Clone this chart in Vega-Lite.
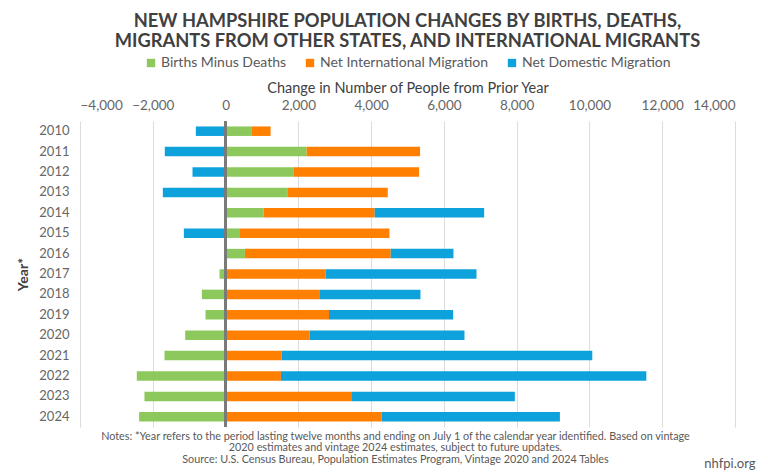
{
  "$schema": "https://vega.github.io/schema/vega-lite/v6.json",
  "width": 655,
  "height": 306,
  "padding": {"left": 16, "top": 11, "right": 6, "bottom": 4},
  "background": "white",
  "config": {
    "view": {"stroke": null},
    "font": "Lato",
    "legend": {"layout": {"top": {"anchor": "middle"}}}
  },
  "title": {
    "text": ["NEW HAMPSHIRE POPULATION CHANGES BY BIRTHS, DEATHS,", "MIGRANTS FROM OTHER STATES, AND INTERNATIONAL MIGRANTS"],
    "font": "Lato",
    "fontSize": 18.3,
    "fontWeight": "bold",
    "color": "#404040",
    "anchor": "middle",
    "lineHeight": 20,
    "offset": 5
  },
  "data": {
    "values": [
      {"year": "2010", "component": "Births Minus Deaths", "people": 707},
      {"year": "2010", "component": "Net International Migration", "people": 531},
      {"year": "2010", "component": "Net Domestic Migration", "people": -817},
      {"year": "2011", "component": "Births Minus Deaths", "people": 2228},
      {"year": "2011", "component": "Net International Migration", "people": 3118},
      {"year": "2011", "component": "Net Domestic Migration", "people": -1670},
      {"year": "2012", "component": "Births Minus Deaths", "people": 1862},
      {"year": "2012", "component": "Net International Migration", "people": 3457},
      {"year": "2012", "component": "Net Domestic Migration", "people": -908},
      {"year": "2013", "component": "Births Minus Deaths", "people": 1697},
      {"year": "2013", "component": "Net International Migration", "people": 2760},
      {"year": "2013", "component": "Net Domestic Migration", "people": -1724},
      {"year": "2014", "component": "Births Minus Deaths", "people": 1045},
      {"year": "2014", "component": "Net International Migration", "people": 3054},
      {"year": "2014", "component": "Net Domestic Migration", "people": 3008},
      {"year": "2015", "component": "Births Minus Deaths", "people": 376},
      {"year": "2015", "component": "Net International Migration", "people": 4127},
      {"year": "2015", "component": "Net Domestic Migration", "people": -1146},
      {"year": "2016", "component": "Births Minus Deaths", "people": 532},
      {"year": "2016", "component": "Net International Migration", "people": 4007},
      {"year": "2016", "component": "Net Domestic Migration", "people": 1724},
      {"year": "2017", "component": "Births Minus Deaths", "people": -165},
      {"year": "2017", "component": "Net International Migration", "people": 2751},
      {"year": "2017", "component": "Net Domestic Migration", "people": 4145},
      {"year": "2018", "component": "Births Minus Deaths", "people": -651},
      {"year": "2018", "component": "Net International Migration", "people": 2577},
      {"year": "2018", "component": "Net Domestic Migration", "people": 2779},
      {"year": "2019", "component": "Births Minus Deaths", "people": -550},
      {"year": "2019", "component": "Net International Migration", "people": 2843},
      {"year": "2019", "component": "Net Domestic Migration", "people": 3411},
      {"year": "2020", "component": "Births Minus Deaths", "people": -1109},
      {"year": "2020", "component": "Net International Migration", "people": 2311},
      {"year": "2020", "component": "Net Domestic Migration", "people": 4255},
      {"year": "2021", "component": "Births Minus Deaths", "people": -1678},
      {"year": "2021", "component": "Net International Migration", "people": 1541},
      {"year": "2021", "component": "Net Domestic Migration", "people": 8537},
      {"year": "2022", "component": "Births Minus Deaths", "people": -2439},
      {"year": "2022", "component": "Net International Migration", "people": 1522},
      {"year": "2022", "component": "Net Domestic Migration", "people": 10041},
      {"year": "2023", "component": "Births Minus Deaths", "people": -2228},
      {"year": "2023", "component": "Net International Migration", "people": 3475},
      {"year": "2023", "component": "Net Domestic Migration", "people": 4475},
      {"year": "2024", "component": "Births Minus Deaths", "people": -2375},
      {"year": "2024", "component": "Net International Migration", "people": 4292},
      {"year": "2024", "component": "Net Domestic Migration", "people": 4896}
    ]
  },
  "transform": [
    {"calculate": "indexof(['Births Minus Deaths', 'Net International Migration', 'Net Domestic Migration'], datum.component)", "as": "stackOrder"}
  ],
  "layer": [
    {
      "mark": {"type": "bar", "size": 9.5},
      "encoding": {
        "x": {
          "field": "people",
          "type": "quantitative",
          "stack": "zero",
          "scale": {"domain": [-4000, 14000], "nice": false},
          "axis": {
            "orient": "top",
            "values": [-4000, -2000, 0, 2000, 4000, 6000, 8000, 10000, 12000, 14000],
            "format": ",.0f",
            "grid": true,
            "gridColor": "#dcdcdc",
            "gridWidth": 1,
            "domain": false,
            "ticks": false,
            "tickSize": 0,
            "labelFont": "Lato",
            "labelFontSize": 13.5,
            "labelColor": "#666666",
            "labelPadding": 9,
            "title": "Change in Number of People from Prior Year",
            "titleFont": "Lato",
            "titleFontSize": 14.5,
            "titleFontWeight": "normal",
            "titleColor": "#404040",
            "titlePadding": 3
          }
        },
        "y": {
          "field": "year",
          "type": "ordinal",
          "scale": {"paddingInner": 0.5, "paddingOuter": 0.25},
          "axis": {
            "orient": "left",
            "domain": false,
            "ticks": false,
            "tickSize": 0,
            "grid": false,
            "labelFont": "Lato",
            "labelFontSize": 13,
            "labelColor": "#666666",
            "labelPadding": 11,
            "title": "Year*",
            "titleFont": "Lato",
            "titleFontSize": 14,
            "titleFontWeight": "bold",
            "titleColor": "#404040",
            "titlePadding": 8
          }
        },
        "color": {
          "field": "component",
          "type": "nominal",
          "sort": ["Births Minus Deaths", "Net International Migration", "Net Domestic Migration"],
          "scale": {
            "domain": ["Births Minus Deaths", "Net International Migration", "Net Domestic Migration"],
            "range": ["#8cc85c", "#ff8000", "#0da2dc"]
          },
          "legend": {
            "orient": "top",
            "direction": "horizontal",
            "title": null,
            "symbolType": "square",
            "symbolSize": 70,
            "symbolStrokeWidth": 0,
            "labelFont": "Lato",
            "labelFontSize": 14,
            "labelColor": "#595959",
            "labelLimit": 300,
            "labelOffset": 3,
            "columnPadding": 16,
            "offset": 10
          }
        },
        "order": {"field": "stackOrder", "type": "quantitative"}
      }
    },
    {
      "mark": {"type": "rule", "color": "#7a7a7a", "strokeWidth": 1.5},
      "encoding": {
        "x": {
          "datum": 0,
          "type": "quantitative",
          "axis": {
            "orient": "bottom",
            "labels": false,
            "ticks": false,
            "tickSize": 0,
            "domain": false,
            "grid": false,
            "title": [
              "Notes: *Year refers to the period lasting twelve months and ending on July 1 of the calendar year identified. Based on vintage",
              "2020 estimates and vintage 2024 estimates, subject to future updates.",
              "Source: U.S. Census Bureau, Population Estimates Program, Vintage 2020 and 2024 Tables"
            ],
            "titleFont": "Lato",
            "titleFontSize": 10.8,
            "titleFontWeight": "normal",
            "titleColor": "#595959",
            "titleLineHeight": 11.5,
            "titlePadding": 3,
            "titleX": 315
          }
        }
      }
    },
    {
      "mark": {"type": "tick", "opacity": 0},
      "encoding": {
        "y": {
          "field": "year",
          "type": "ordinal",
          "axis": {
            "orient": "right",
            "labels": false,
            "ticks": false,
            "tickSize": 0,
            "domain": false,
            "grid": false,
            "title": "nhfpi.org",
            "titleAngle": 0,
            "titleAlign": "right",
            "titleBaseline": "alphabetic",
            "titleX": 20,
            "titleY": 346,
            "titleFont": "Lato",
            "titleFontSize": 13,
            "titleFontWeight": "normal",
            "titleColor": "#595959"
          }
        }
      }
    }
  ],
  "resolve": {"axis": {"x": "independent", "y": "independent"}}
}
